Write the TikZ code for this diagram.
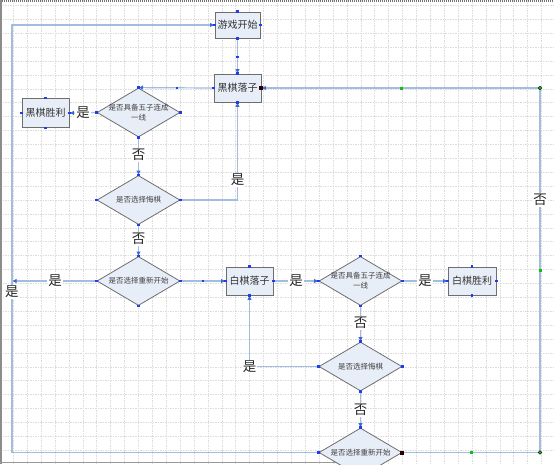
\documentclass[tikz,border=0pt]{standalone}
\usepackage{fontspec}
\setmainfont{Noto Sans CJK SC}
\usetikzlibrary{shapes.geometric,arrows.meta}
\definecolor{boxfill}{HTML}{E8EEF8}
\definecolor{boxline}{HTML}{6E6E6E}
\definecolor{connc}{HTML}{A3BCE2}
\definecolor{handle}{HTML}{1E3CF0}
\definecolor{tipc}{HTML}{3F67C8}
\definecolor{gridc}{HTML}{DCDCDC}
\definecolor{gdot}{HTML}{10C010}
\definecolor{selc}{HTML}{2A0000}
\begin{document}
\begin{tikzpicture}[x=1pt,y=-1pt,
  proc/.style={draw=boxline,fill=boxfill,line width=0.8pt,minimum width=47pt,minimum height=28pt,inner sep=0pt,text=black!80,font=\fontsize{10}{12}\selectfont},
  dia/.style={diamond,draw=boxline,fill=boxfill,line width=0.8pt,minimum width=83pt,minimum height=49pt,inner sep=0pt},
  dtext/.style={font=\fontsize{7.5}{10}\selectfont,align=center,inner sep=0pt,text=black!75},
  conn/.style={draw=connc,line width=1.2pt},
  arr/.style={conn,-{Latex[length=4.5pt,width=4.5pt,color=tipc]}},
  lab/.style={fill=white,inner sep=1pt,text=black!85,font=\fontsize{13.5}{14}\selectfont},
  hd/.style={fill=handle,minimum size=2.6pt,inner sep=0pt},
  gd/.style={fill=gdot,minimum size=3pt,inner sep=0pt},
  gc/.style={circle,fill=gdot,draw=black,line width=0.4pt,minimum size=3.6pt,inner sep=0pt},
  sel/.style={fill=selc,minimum size=4pt,inner sep=0pt}
]
\useasboundingbox (0,0) rectangle (554,464);
\fill[white] (0,0) rectangle (554,464);
% grid
\foreach \i in {0,...,38} \draw[gridc,line width=0.6pt,dash pattern=on 1.5pt off 1pt] (13.3+13.9*\i,0) -- (13.3+13.9*\i,464);
\foreach \j in {-1,...,31} \draw[gridc,line width=0.6pt,dash pattern=on 1.5pt off 1pt] (0,19.3+13.9*\j) -- (554,19.3+13.9*\j);
% borders
\draw[black!55,line width=1.5pt,dash pattern=on 1pt off 1pt] (0,0.75) -- (554,0.75);
\draw[black!45,line width=1.5pt] (0.75,0) -- (0.75,464);
\draw[black!40,line width=1pt] (0,462.5) -- (352,462.5);

% shapes
\node[proc,minimum width=45pt,minimum height=26pt] (start) at (237.5,25) {游戏开始};
\node[proc] (black) at (237.5,88) {黑棋落子};
\node[dia] (d1) at (138.5,112.5) {};
\node[dtext] (t1) at (d1) {是否具备五子连成\\一线};
\node[proc,minimum height=29pt] (bwin) at (45.5,113) {黑棋胜利};
\node[dia] (d2) at (138.5,200) {};
\node[dtext] (t2) at (d2) {是否选择悔棋};
\node[dia] (d3) at (138.5,281) {};
\node[dtext] (t3) at (d3) {是否选择重新开始};
\node[proc] (white) at (249.5,281) {白棋落子};
\node[dia] (d4) at (360.5,281) {};
\node[dtext] (t4) at (d4) {是否具备五子连成\\一线};
\node[proc,minimum width=48pt] (wwin) at (472,281) {白棋胜利};
\node[dia] (d5) at (360.5,366.5) {};
\node[dtext] (t5) at (d5) {是否选择悔棋};
\node[dia] (d6) at (360.5,452.5) {};
\node[dtext] (t6) at (d6) {是否选择重新开始};

% coordinates
\coordinate (L3) at (12,281);
\coordinate (LB) at (12,452.5);
\coordinate (LT) at (12,25);
\coordinate (RB) at (540,452.5);
\coordinate (RT) at (540,88);

% connectors
\draw[arr] (start.south) -- (black.north);
\draw[arr] (black.west) -- (d1.north);
\draw[arr] (d1.west) -- (bwin.east);
\draw[arr] (d1.south) -- (d2.north);
\draw[arr] (d2.east) -| (black.south);
\draw[arr] (d2.south) -- (d3.north);
\draw[arr] (d3.west) -- (L3);
\draw[arr] (d3.east) -- (white.west);
\draw[arr] (white.east) -- (d4.west);
\draw[arr] (d4.east) -- (wwin.west);
\draw[arr] (d4.south) -- (d5.north);
\draw[arr] (d5.west) -| (white.south);
\draw[arr] (d5.south) -- (d6.north);
\draw[arr] (d6.west) -- (LB) -- (LT) -- (start.west);
\draw[arr] (d6.east) -- (RB) -- (RT) -- (black.east);

% labels
\node[lab] (y1) at (83,113) {是};
\node[lab] (n1) at (138.5,155) {否};
\node[lab] (y2) at (237.5,180) {是};
\node[lab] (n2) at (138.5,239) {否};
\node[lab] (y3) at (55,281) {是};
\node[lab] (y4) at (12,292) {是};
\node[lab] (y5) at (296,281) {是};
\node[lab] (y6) at (425,281) {是};
\node[lab] (n4) at (360.5,323) {否};
\node[lab] (y7) at (249.5,366.5) {是};
\node[lab] (n5) at (360.5,410) {否};
\node[lab] (n6) at (540,200) {否};

% handles
\foreach \s in {start,bwin,white,wwin,d1,d2,d3,d4,d5}
  \foreach \a in {north,south,east,west}
    \node[hd] at (\s.\a) {};
\foreach \a in {north,south,west}
  \node[hd] at (black.\a) {};
\foreach \a in {north,west}
  \node[hd] at (d6.\a) {};
\node[hd] at (237.5,57) {};
\node[hd] at (177,88) {};
\node[hd] at (203,281) {};
\node[sel] at (black.east) {};
\node[sel] at (d6.east) {};
\node[gd] at (401,88) {};
\node[gd] at (540,270) {};
\node[gd] at (471.5,452.5) {};
\node[gc] at (RT) {};
\node[gc] at (RB) {};
\end{tikzpicture}
\end{document}
